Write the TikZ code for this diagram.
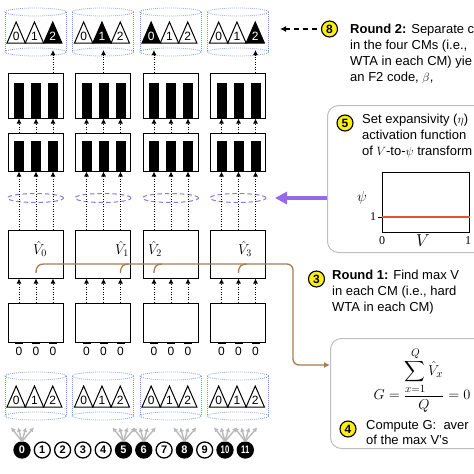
\documentclass[tikz,border=0pt]{standalone}
\usepackage{amsmath}
\usepackage{graphicx}
\usepackage{fontspec}
\setmainfont{Liberation Sans}
\newfontfamily\plotserif{Liberation Serif}
\usetikzlibrary{arrows.meta}

\definecolor{cylblue}{RGB}{115,150,215}
\definecolor{swirlpurple}{RGB}{140,120,225}
\definecolor{etapurple}{RGB}{150,105,232}
\definecolor{maxbrown}{RGB}{168,125,80}
\definecolor{badgeyellow}{RGB}{250,238,20}
\definecolor{panelgray}{RGB}{190,190,190}
\definecolor{fangray}{RGB}{185,185,185}
\definecolor{psired}{RGB}{228,85,45}

\begin{document}
\begin{tikzpicture}[x=1pt, y=-1pt,
  every node/.style={inner sep=0pt},
  cmbox/.style={draw, line width=1pt, minimum width=55pt},
  cyl/.style={draw=cylblue, line width=0.8pt, dash pattern=on 0.8pt off 1.2pt},
  tri/.style={draw, line width=1pt, line join=miter},
  cmdigit/.style={font=\fontsize{12}{12}\selectfont},
  dotarrow/.style={line width=1pt, dash pattern=on 1pt off 1.5pt,
                   -{Latex[length=5pt, width=5pt]}},
  swirl/.style={draw=swirlpurple, line width=1pt, dash pattern=on 4.5pt off 3pt},
  vlab/.style={font=\fontsize{14}{14}\selectfont},
  zerolab/.style={font=\fontsize{12}{12}\selectfont},
  inball/.style={circle, draw, line width=1.3pt, minimum size=16pt,
                 font=\bfseries\fontsize{11}{11}\selectfont},
  fan/.style={fangray, line width=1.4pt, -{Latex[length=4.5pt, width=5pt]}},
  badge/.style={circle, draw, fill=badgeyellow, line width=1.1pt, minimum size=16pt,
                font=\bfseries\fontsize{12}{12}\selectfont},
  note/.style={anchor=north west, align=left, font=\fontsize{13}{16}\selectfont},
  panel/.style={draw=panelgray, line width=1pt, rounded corners=11pt, anchor=north west},
  plotlab/.style={font=\plotserif\fontsize{12}{12}\selectfont},
  maxline/.style={draw=maxbrown, line width=1.3pt}
]
  \useasboundingbox (0,0) rectangle (474,474);
  \clip (0,0) rectangle (474,474);

  % --- Four CMs: boxes, cylinders, links ---
  \foreach \k/\L/\w/\h/\vx in {0/8/2/1/40, 1/75.5/1/2/122, 2/143/0/0/155, 3/210.5/2/1/245}{
    \foreach \j in {0,1,2}
      \coordinate (u\k\j) at ({\L+11+17*\j}, 0);
    \node[cmbox, minimum height=45pt] (bars\k) at ({\L+27.5}, 95.5) {};
    \node[cmbox, minimum height=38pt] (ff\k)   at ({\L+27.5}, 152) {};
    \node[cmbox, minimum height=48pt] (vbox\k) at ({\L+27.5}, 254) {};
    \node[cmbox, minimum height=39pt] (low\k)  at ({\L+27.5}, 322.5) {};
    \draw[swirl] ({\L+27.5}, 198) ellipse [x radius=28pt, y radius=4.5pt];
    \foreach \j in {0,1,2}{
      \fill ({\L+6+17*\j}, 83) rectangle +(10, 35);
      \fill ({\L+6+17*\j}, 141) rectangle +(10, 30);
      \draw[dotarrow] (ff\k.north -| u\k\j) -- (bars\k.south -| u\k\j);
      \draw[dotarrow] (vbox\k.north -| u\k\j) -- (ff\k.south -| u\k\j);
      \draw[dotarrow] (low\k.north -| u\k\j) -- (vbox\k.south -| u\k\j);
      \draw[line width=2pt] (low\k.south -| u\k\j) ++(-4,0) -- ++(8,0);
      \node[zerolab] (z\k\j) at (u\k\j |- 0,351) {0};
    }
    % cylinders (top: F2 code, bottom: input)
    \foreach \yt/\win in {12/\w, 376/9}{
      \draw[cyl] ({\L+27.5}, \yt) ellipse [x radius=30.5pt, y radius=4pt];
      \draw[cyl] ({\L+27.5}, \yt+40) ellipse [x radius=30.5pt, y radius=4pt];
      \draw[cyl] ({\L-3}, \yt) -- ({\L-3}, \yt+40);
      \draw[cyl] ({\L+58}, \yt) -- ({\L+58}, \yt+40);
      \foreach \j in {0,1,2}{
        \ifnum\j=\win\relax\def\tfill{black}\def\tcol{white}\else\def\tfill{white}\def\tcol{black}\fi
        \draw[tri, fill=\tfill] ({\L-1+18.3*\j}, \yt+31) -- ++(9.15,-21) -- ++(9.15,21) -- cycle;
        \node[cmdigit, text=\tcol] (t\k\j\yt) at ({\L+8.15+18.3*\j}, \yt+24.5) {\j};
      }
    }
    \coordinate (cyltip\k) at ({\L+11+17*\w}, 50);
    \draw[dotarrow] (bars\k.north -| cyltip\k) -- (cyltip\k);
    \node[vlab] (vl\k) at (\vx, 249) {$\hat{V}_{\k}$};
    % hook of the max V
    \coordinate (hook\k) at ({\L+11+17*\h}, 273);
    \coordinate (join\k) at ({\L+19+17*\h}, 264);
    \draw[maxline] (hook\k) .. controls +(0,-7) and +(-5,0) .. (join\k);
  }

  % --- Input units ---
  \foreach \i/\bg/\fg in {0/black/white, 1/white/black, 2/white/black, 3/white/black,
      4/white/black, 5/black/white, 6/black/white, 7/white/black, 8/black/white,
      9/white/black, 10/black/white, 11/black/white}
    \node[inball, fill=\bg, text=\fg] (in\i) at ({22+20.3*\i}, 450)
      {\ifnum\i>9 \scalebox{0.7}[1]{\i}\else\i\fi};
  \foreach \i in {0,5,6,8,10,11}
    \foreach \dx in {-11,-4,4,12}
      \draw[fan] (in\i.north) -- ++(\dx,-14);

  % --- Round 1: max V to G ---
  \coordinate (bend) at (293,264);
  \coordinate (gin) at (330,365);
  \draw[maxline, rounded corners=6pt, -{Latex[length=6pt, width=6pt]}]
    (join0) -- (bend) -- (bend |- gin) -- (gin);
  \node[badge] (badge3) at (316.5,279) {3};
  \node[note] (note3) at (332,270)
    {\textbf{Round 1:} Find max V\\in each CM (i.e., hard\\WTA in each CM)};

  % --- Round 2 ---
  \coordinate (r2tip) at (280,29);
  \node[badge] (badge8) at (329.5,29) {8};
  \draw[line width=1.2pt, dash pattern=on 5pt off 4pt, shorten <=4pt,
        -{Latex[length=6pt, width=6pt]}] (badge8.west) -- (r2tip);
  \node[note] (note8) at (350,23.5)
    {\textbf{Round 2:} Separate c\\in the four CMs (i.e.,\\WTA in each CM) yie\\an F2 code, $\beta$,};

  % --- Expansivity panel ---
  \node[panel, minimum width=200pt, minimum height=147pt] (psipanel) at (327,105) {};
  \node[badge] (badge5) at (345,123) {5};
  \node[note] (note5) at (362,114)
    {Set expansivity ($\eta$)\\activation function\\of $V$-to-$\psi$ transform};
  \node[draw, line width=1pt, minimum width=86.5pt, minimum height=60pt,
        anchor=north west] (plot) at (382,172) {};
  \node[plotlab] (psione) at (373,217) {1};
  \draw[line width=1pt] (plot.west |- psione) -- ++(-4,0);
  \draw[psired, line width=1.6pt] (plot.west |- psione) -- (plot.east |- psione);
  \node[font=\fontsize{15}{15}\selectfont] (psilab) at (362,198) {$\psi$};
  \node[plotlab] (vzero) at (382,241) {0};
  \node[font=\fontsize{17}{17}\selectfont] (vaxis) at (423,241) {$V$};
  \node[plotlab] (vone) at (468,241) {1};
  \coordinate (etatip) at (275,198);
  \draw[etapurple, line width=3.5pt, -{Triangle[length=12pt, width=12pt]}]
    (psipanel.west |- etatip) -- (etatip);

  % --- G panel ---
  \node[panel, minimum width=200pt, minimum height=110pt] (gpanel) at (330,338) {};
  \node[font=\fontsize{15}{18}\selectfont] (gform) at (422,380)
    {$G = \dfrac{\displaystyle\sum_{x=1}^{Q}\hat{V}_x}{Q} = 0$};
  \node[badge] (badge4) at (348,429) {4};
  \node[note, font=\fontsize{13}{15}\selectfont] (note4) at (366,420)
    {Compute G:\ \ aver\\of the max V's};
\end{tikzpicture}
\end{document}
